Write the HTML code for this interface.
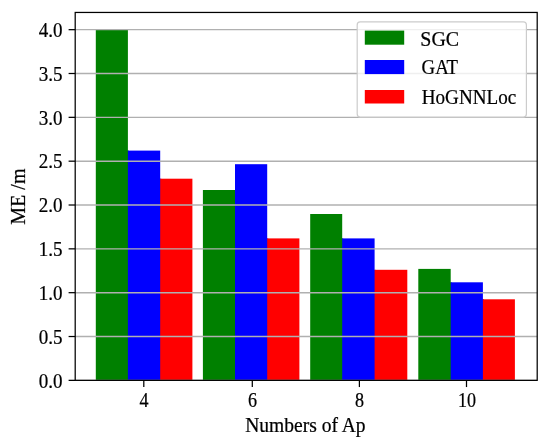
<!DOCTYPE html>
<html><head><meta charset="utf-8"><title>chart</title>
<style>
html,body{margin:0;padding:0;background:#fff;}
svg{display:block;}
text{font-family:"Liberation Serif","Times New Roman",serif;font-size:19.44px;fill:#000;stroke:#000;stroke-width:0.22px;}
</style></head><body>
<svg width="550" height="447" viewBox="0 0 550 447">
<rect x="0" y="0" width="550" height="447" fill="#fff"/>
<rect x="126.90" y="150.60" width="2" height="229.75" fill="#008000"/>
<rect x="159.20" y="178.70" width="2" height="201.65" fill="#0000ff"/>
<rect x="234.00" y="190.00" width="2" height="190.35" fill="#008000"/>
<rect x="266.20" y="238.40" width="2" height="141.95" fill="#0000ff"/>
<rect x="341.20" y="238.40" width="2" height="141.95" fill="#008000"/>
<rect x="373.60" y="269.80" width="2" height="110.55" fill="#0000ff"/>
<rect x="449.70" y="282.30" width="2" height="98.05" fill="#008000"/>
<rect x="481.90" y="299.30" width="2" height="81.05" fill="#0000ff"/>
<rect x="95.80" y="30.00" width="32.10" height="350.35" fill="#008000"/>
<rect x="202.90" y="190.00" width="32.10" height="190.35" fill="#008000"/>
<rect x="310.20" y="214.00" width="32.00" height="166.35" fill="#008000"/>
<rect x="418.30" y="268.90" width="32.40" height="111.45" fill="#008000"/>
<rect x="127.90" y="150.60" width="32.30" height="229.75" fill="#0000ff"/>
<rect x="235.00" y="164.20" width="32.20" height="216.15" fill="#0000ff"/>
<rect x="342.20" y="238.40" width="32.40" height="141.95" fill="#0000ff"/>
<rect x="450.70" y="282.30" width="32.20" height="98.05" fill="#0000ff"/>
<rect x="160.20" y="178.70" width="32.20" height="201.65" fill="#ff0000"/>
<rect x="267.20" y="238.40" width="32.20" height="141.95" fill="#ff0000"/>
<rect x="374.60" y="269.80" width="32.70" height="110.55" fill="#ff0000"/>
<rect x="482.90" y="299.30" width="32.00" height="81.05" fill="#ff0000"/>
<line x1="75.2" x2="537.2" y1="380.35" y2="380.35" stroke="#b0b0b0" stroke-width="1.4"/>
<line x1="75.2" x2="537.2" y1="336.52" y2="336.52" stroke="#b0b0b0" stroke-width="1.4"/>
<line x1="75.2" x2="537.2" y1="292.68" y2="292.68" stroke="#b0b0b0" stroke-width="1.4"/>
<line x1="75.2" x2="537.2" y1="248.85" y2="248.85" stroke="#b0b0b0" stroke-width="1.4"/>
<line x1="75.2" x2="537.2" y1="205.01" y2="205.01" stroke="#b0b0b0" stroke-width="1.4"/>
<line x1="75.2" x2="537.2" y1="161.18" y2="161.18" stroke="#b0b0b0" stroke-width="1.4"/>
<line x1="75.2" x2="537.2" y1="117.34" y2="117.34" stroke="#b0b0b0" stroke-width="1.4"/>
<line x1="75.2" x2="537.2" y1="73.50" y2="73.50" stroke="#b0b0b0" stroke-width="1.4"/>
<line x1="75.2" x2="537.2" y1="29.67" y2="29.67" stroke="#b0b0b0" stroke-width="1.4"/>
<line x1="68.60000000000001" x2="75.2" y1="380.35" y2="380.35" stroke="#000" stroke-width="1.25"/>
<text transform="translate(62.50,387.55) scale(0.98,1.12)" text-anchor="end">0.0</text>
<line x1="68.60000000000001" x2="75.2" y1="336.52" y2="336.52" stroke="#000" stroke-width="1.25"/>
<text transform="translate(62.50,343.72) scale(0.98,1.12)" text-anchor="end">0.5</text>
<line x1="68.60000000000001" x2="75.2" y1="292.68" y2="292.68" stroke="#000" stroke-width="1.25"/>
<text transform="translate(62.50,299.88) scale(0.98,1.12)" text-anchor="end">1.0</text>
<line x1="68.60000000000001" x2="75.2" y1="248.85" y2="248.85" stroke="#000" stroke-width="1.25"/>
<text transform="translate(62.50,256.05) scale(0.98,1.12)" text-anchor="end">1.5</text>
<line x1="68.60000000000001" x2="75.2" y1="205.01" y2="205.01" stroke="#000" stroke-width="1.25"/>
<text transform="translate(62.50,212.21) scale(0.98,1.12)" text-anchor="end">2.0</text>
<line x1="68.60000000000001" x2="75.2" y1="161.18" y2="161.18" stroke="#000" stroke-width="1.25"/>
<text transform="translate(62.50,168.38) scale(0.98,1.12)" text-anchor="end">2.5</text>
<line x1="68.60000000000001" x2="75.2" y1="117.34" y2="117.34" stroke="#000" stroke-width="1.25"/>
<text transform="translate(62.50,124.54) scale(0.98,1.12)" text-anchor="end">3.0</text>
<line x1="68.60000000000001" x2="75.2" y1="73.50" y2="73.50" stroke="#000" stroke-width="1.25"/>
<text transform="translate(62.50,80.70) scale(0.98,1.12)" text-anchor="end">3.5</text>
<line x1="68.60000000000001" x2="75.2" y1="29.67" y2="29.67" stroke="#000" stroke-width="1.25"/>
<text transform="translate(62.50,36.87) scale(0.98,1.12)" text-anchor="end">4.0</text>
<line x1="143.80" x2="143.80" y1="380.35" y2="387.05" stroke="#000" stroke-width="1.25"/>
<text transform="translate(143.90,406.60) scale(0.93,1.12)" text-anchor="middle">4</text>
<line x1="252.30" x2="252.30" y1="380.35" y2="387.05" stroke="#000" stroke-width="1.25"/>
<text transform="translate(252.40,406.60) scale(0.93,1.12)" text-anchor="middle">6</text>
<line x1="359.40" x2="359.40" y1="380.35" y2="387.05" stroke="#000" stroke-width="1.25"/>
<text transform="translate(359.50,406.60) scale(0.93,1.12)" text-anchor="middle">8</text>
<line x1="466.50" x2="466.50" y1="380.35" y2="387.05" stroke="#000" stroke-width="1.25"/>
<text transform="translate(467.10,406.60) scale(0.93,1.12)" text-anchor="middle">10</text>
<rect x="75.2" y="12.45" width="462.00" height="367.90" fill="none" stroke="#000" stroke-width="1.25"/>
<text transform="translate(305.40,431.90) scale(1.005,1.12)" text-anchor="middle">Numbers of Ap</text>
<text transform="translate(25.3,196.6) scale(1.03,1.03) rotate(-90)" text-anchor="middle">ME /m</text>
<rect x="357.2" y="21.9" width="169.2" height="95.2" rx="3" ry="3" fill="#fff" fill-opacity="0.8" stroke="#ccc" stroke-width="1.2"/>
<rect x="364.8" y="30.6" width="39.4" height="14.10" fill="#008000"/>
<text transform="translate(420.30,45.50) scale(1.025,1.12)" text-anchor="start">SGC</text>
<rect x="364.8" y="60.0" width="39.4" height="14.10" fill="#0000ff"/>
<text transform="translate(421.60,74.40) scale(0.965,1.12)" text-anchor="start">GAT</text>
<rect x="364.8" y="90.0" width="39.4" height="13.50" fill="#ff0000"/>
<text transform="translate(421.80,104.30) scale(0.982,1.12)" text-anchor="start">HoGNNLoc</text>
</svg>
</body></html>
